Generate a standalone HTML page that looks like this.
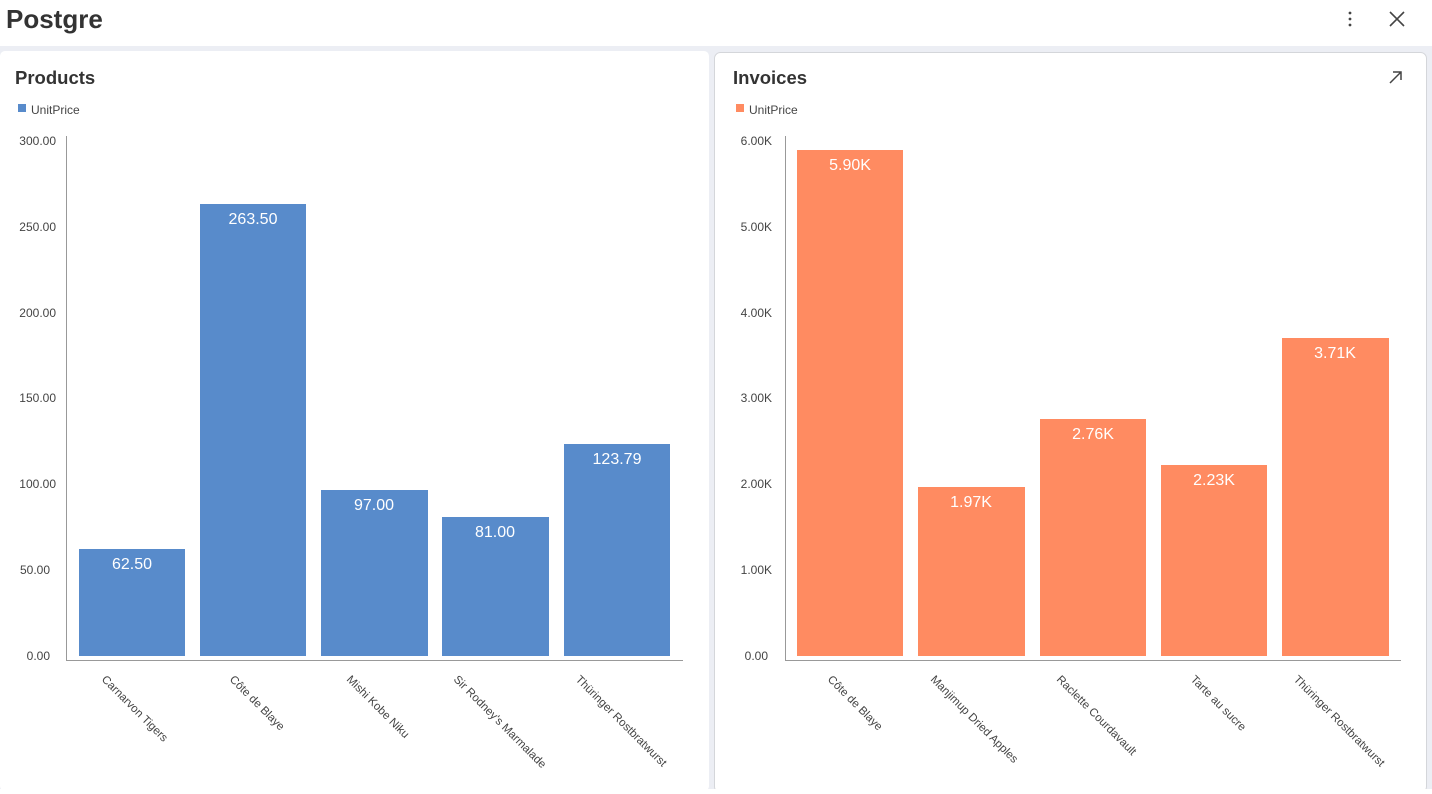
<!DOCTYPE html>
<html><head><meta charset="utf-8"><style>
body{margin:0;width:1432px;height:789px;background:#fff;font-family:"Liberation Sans",sans-serif;overflow:hidden;position:relative}
</style></head><body>
<svg width="1432" height="789" xmlns="http://www.w3.org/2000/svg" font-family="Liberation Sans, sans-serif">
<rect x="0" y="46" width="1432" height="743" fill="#eceef4"/>
<rect x="0" y="51" width="709" height="740" rx="5" fill="#fff"/>
<rect x="714.5" y="52.5" width="712" height="740" rx="6" fill="#fff" stroke="#d4d6da"/>
<text x="6" y="28" font-size="26" font-weight="bold" fill="#333">Postgre</text>
<circle cx="1350" cy="13" r="1.4" fill="#444"/><circle cx="1350" cy="19" r="1.4" fill="#444"/><circle cx="1350" cy="25" r="1.4" fill="#444"/>
<path d="M1390 12L1404 26M1404 12L1390 26" stroke="#444" stroke-width="1.6"/>
<path d="M1390 83L1401 72M1393 72H1401V80" stroke="#444" stroke-width="1.5" fill="none"/>
<text x="15" y="84" font-size="18.5" font-weight="bold" fill="#333">Products</text>
<text x="733" y="84" font-size="18.5" font-weight="bold" fill="#333">Invoices</text>
<rect x="18" y="104" width="8" height="8" fill="#588bcb"/><text x="31" y="114" font-size="12" fill="#444">UnitPrice</text>
<rect x="736" y="104" width="8" height="8" fill="#ff8b61"/><text x="749" y="114" font-size="12" fill="#444">UnitPrice</text>
<g font-size="12" fill="#444" text-anchor="end">
<text x="56" y="145">300.00</text><text x="56" y="231">250.00</text><text x="56" y="317">200.00</text><text x="56" y="402">150.00</text><text x="56" y="488">100.00</text><text x="50" y="574">50.00</text><text x="50" y="660">0.00</text>
<text x="772" y="145">6.00K</text><text x="772" y="231">5.00K</text><text x="772" y="317">4.00K</text><text x="772" y="402">3.00K</text><text x="772" y="488">2.00K</text><text x="772" y="574">1.00K</text><text x="768" y="660">0.00</text>
</g>
<path d="M66.5 136V660.5H683" stroke="#999" fill="none"/>
<path d="M785.5 136V660.5H1401" stroke="#999" fill="none"/>
<g fill="#588bcb">
<rect x="79" y="549" width="106" height="107"/><rect x="200" y="204" width="106" height="452"/><rect x="321" y="490" width="107" height="166"/><rect x="442" y="517" width="107" height="139"/><rect x="564" y="444" width="106" height="212"/>
</g>
<g fill="#ff8b61">
<rect x="797" y="150" width="106" height="506"/><rect x="918" y="487" width="107" height="169"/><rect x="1040" y="419" width="106" height="237"/><rect x="1161" y="465" width="106" height="191"/><rect x="1282" y="338" width="107" height="318"/>
</g>
<g font-size="16" fill="#fff" text-anchor="middle">
<text x="132" y="569">62.50</text><text x="253" y="224">263.50</text><text x="374" y="510">97.00</text><text x="495" y="537">81.00</text><text x="617" y="464">123.79</text>
<text x="850" y="170">5.90K</text><text x="971" y="507">1.97K</text><text x="1093" y="439">2.76K</text><text x="1214" y="485">2.23K</text><text x="1335" y="358">3.71K</text>
</g>
<g font-size="11.5" fill="#444">
<text transform="translate(101,680) rotate(45)">Carnarvon Tigers</text>
<text transform="translate(229,680) rotate(45)">Côte de Blaye</text>
<text transform="translate(346,680) rotate(45)">Mishi Kobe Niku</text>
<text transform="translate(453,680) rotate(45)">Sir Rodney's Marmalade</text>
<text transform="translate(575,680) rotate(45)">Thüringer Rostbratwurst</text>
<text transform="translate(827,680) rotate(45)">Côte de Blaye</text>
<text transform="translate(930,680) rotate(45)">Manjimup Dried Apples</text>
<text transform="translate(1056,680) rotate(45)">Raclette Courdavault</text>
<text transform="translate(1190,680) rotate(45)">Tarte au sucre</text>
<text transform="translate(1293,680) rotate(45)">Thüringer Rostbratwurst</text>
</g>
</svg>
</body></html>
